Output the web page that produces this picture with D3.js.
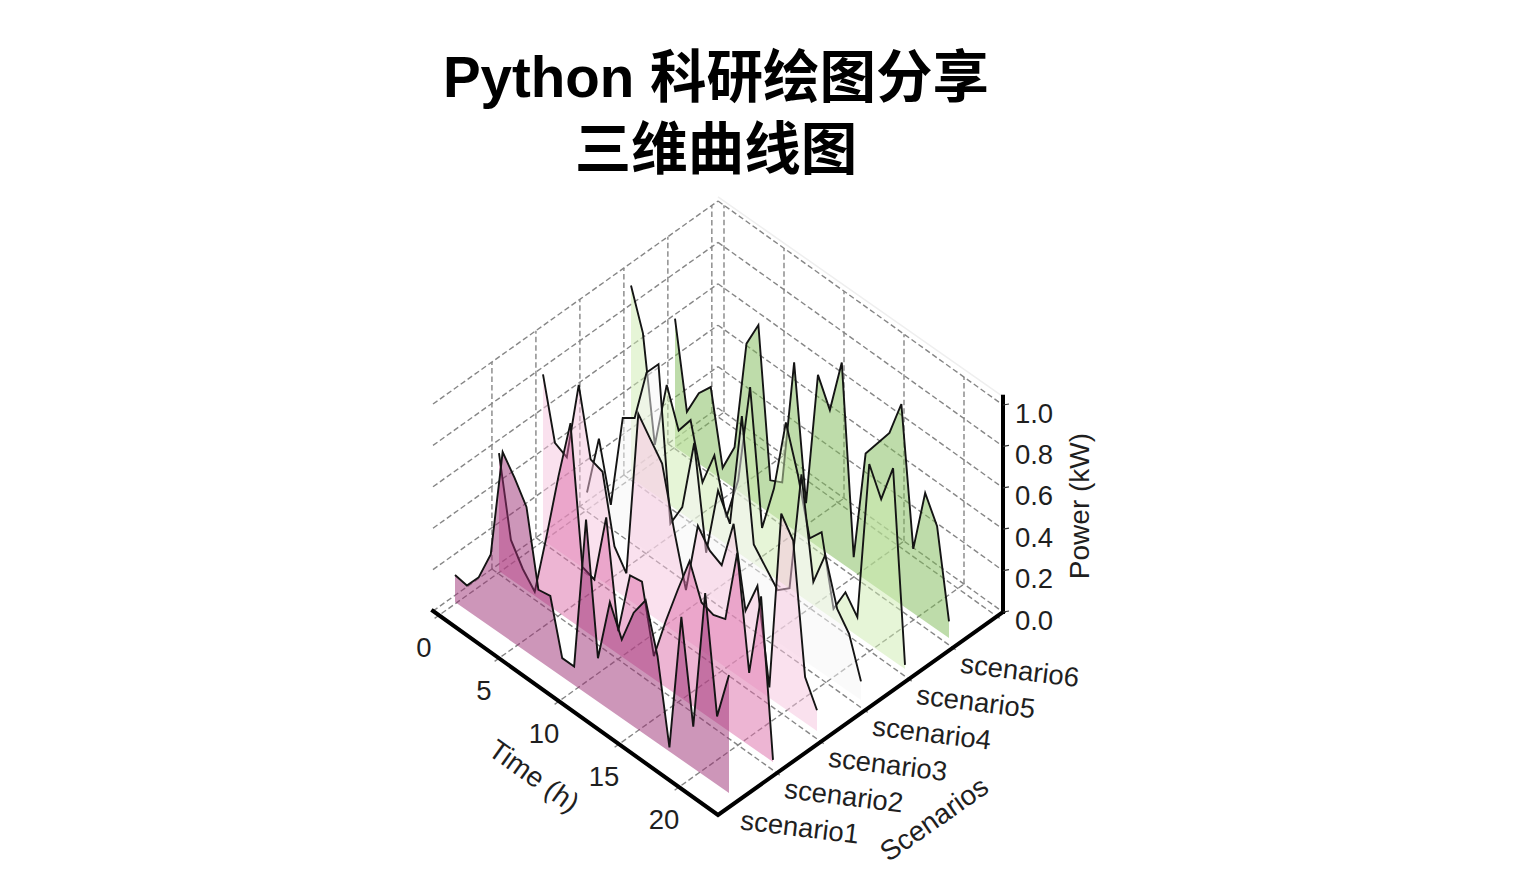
<!DOCTYPE html>
<html><head><meta charset="utf-8">
<script src="https://cdn.jsdelivr.net/npm/d3@7/dist/d3.min.js"></script>
<style>html,body{margin:0;padding:0;background:#fff}svg{display:block}text{font-family:"Liberation Sans","Noto Sans CJK SC",sans-serif;fill:#1f1f1f}</style>
</head><body><svg id="c" width="1514" height="896"></svg>
<script>
const titleLines=["Python 科研绘图分享","三维曲线图"];
const scenarios=["scenario1","scenario2","scenario3","scenario4","scenario5","scenario6"];
const timeTicks=[0,5,10,15,20];
const powerTicks=[0,0.2,0.4,0.6,0.8,1.0];
const hours=d3.range(24);
const scenario1=[.13,.12,.20,.35,.885,.80,.70,.34,.35,.09,.09,.84,.21,.52,.38,.55,.65,.42,.02,.69,.20,.885,.33,.57];
const scenario2=[.57,.19,.09,.02,.33,.66,.955,.30,.28,.62,.11,.42,.43,.11,.32,.51,.69,.53,.51,.53,.89,.35,.76,.01];
const scenario3=[.80,.51,.48,.87,.55,.53,.21,.12,.93,.85,.77,.49,.24,.59,.51,.48,.72,.34,.50,.05,.93,.84,.22,.10];
const scenario4=[.08,.38,.10,.56,.60,.86,.94,.21,.33,.68,.19,.53,.41,.97,.39,.32,.25,.30,.89,.41,.58,.36,.28,.09];
const scenario5=[.93,.74,.24,.57,.39,.48,.22,.39,.13,.35,.84,.20,.43,.79,.58,.31,.38,.05,.17,.09,.87,.74,.93,.02];
const scenario6=[.62,.21,.34,.41,.06,.20,.74,.87,.16,.19,.81,.17,.83,.70,.97,.07,.61,.70,.79,.97,.31,.62,.50,.08];
const seriesValues=[scenario1,scenario2,scenario3,scenario4,scenario5,scenario6];
const colours=["#9b2d73","#db6ca7","#f5c3dd","#f5f5f5","#cdebaf","#7db955"];

const svg=d3.select("#c");
const gX=d3.scaleLinear().domain([-0.5,23.25]).range([0,285]);
const gY=d3.scaleLinear().domain([-0.5,23.25]).range([0,204]);
const sX=d3.scaleLinear().domain([-0.34,6.14]).range([0,285]);
const sY=d3.scaleLinear().domain([-0.34,6.14]).range([0,-203]);
const zS=d3.scaleLinear().domain([0,1]).range([0,207]);
const P=(t,s,z)=>[433+gX(t)+sX(s), 611+gY(t)+sY(s)-zS(z)];
const dX=d3.scaleLinear().domain([0,23]).range([455,729]);
const dY=d3.scaleLinear().domain([0,23]).range([602,793]);
const oX=d3.scaleLinear().domain([0,5]).range([0,220]);
const oY=d3.scaleLinear().domain([0,5]).range([0,-155]);
const D=(t,s,z)=>[dX(t)+oX(s), dY(t)+oY(s)-zS(z)];
const tMin=-0.5,tMax=23.25,sMin=-0.34,sMax=6.14,zTop=1.04;
const line=d3.line();
svg.append("path").attr("fill","none").attr("stroke","#efefef").attr("stroke-width",1.5)
  .attr("d",line([P(tMin,sMax,zTop-0.02),P(tMax,sMax,zTop)]));
const grid=svg.append("g").attr("fill","none").attr("stroke","#868686").attr("stroke-width",1.4).attr("stroke-dasharray","5.5,3");
const seg=(a,b)=>grid.append("path").attr("d",line([a,b]));
scenarios.forEach((_,i)=>{const s=i+1;
  seg(P(tMin,s,0),P(tMax+0.35,s,0));
  seg(P(tMin,s,0),P(tMin,s,1));
});
timeTicks.forEach(t=>{
  seg(P(t,sMin-0.1,0),P(t,sMax,0));
  seg(P(t,sMax,0),P(t,sMax,1));
});
powerTicks.forEach(z=>{
  seg(P(tMin,sMin,z),P(tMin,sMax,z));
  seg(P(tMin,sMax,z),P(tMax,sMax,z));
});
d3.range(5,-1,-1).forEach(i=>{
  const vals=seriesValues[i];
  const top=hours.map(t=>D(t,i,vals[t]));
  const poly=[D(0,i,0),...top,D(23,i,0)];
  svg.append("path").attr("d",line(poly)+"Z").attr("fill",colours[i]).attr("fill-opacity",0.5).attr("stroke","none");
  svg.append("path").attr("d",line(top)).attr("fill","none").attr("stroke","#141414").attr("stroke-width",1.9).attr("stroke-linejoin","miter");
});
const axes=svg.append("g").attr("fill","none").attr("stroke","#000").attr("stroke-width",4).attr("stroke-linecap","square");
axes.append("path").attr("d",line([P(tMin,sMin,0),P(tMax,sMin,0),P(tMax,sMax,0)]));
axes.append("path").attr("d",line([P(tMax,sMax,0),P(tMax,sMax,zTop)]));
const ticks=svg.append("g").attr("stroke","#333").attr("stroke-width",1.2);
powerTicks.forEach(z=>{const p=P(tMax,sMax,z);ticks.append("path").attr("d",line([p,[p[0]+6,p[1]-1]]));});
const label=(x,y,txt,size,rot)=>svg.append("text").attr("x",x).attr("y",y).attr("text-anchor","middle").attr("dominant-baseline","central")
  .attr("font-size",size).attr("transform",rot?`rotate(${rot} ${x} ${y})`:null).text(txt);
timeTicks.forEach(t=>{const p=P(t,sMin,0);label(p[0]-15,p[1]+32,t,27.5);});
scenarios.forEach((n,i)=>{const p=P(tMax,i+1,0);label(p[0]+23,p[1]+54,n,27.5,7);});
powerTicks.forEach(z=>{const p=P(tMax,sMax,z);label(p[0]+31,p[1]+8,z.toFixed(1),27.5);});
label(1079,506,"Power (kW)",28,-90);
label(534,776,"Time (h)",28,35.5);
label(934,819,"Scenarios",28,-35);
titleLines.forEach((l,i)=>{svg.append("text").attr("x",716).attr("y",77+i*72).attr("text-anchor","middle").attr("dominant-baseline","central")
  .attr("font-size",56.5).attr("font-weight","bold").style("fill","#000").text(l);});
</script></body></html>
